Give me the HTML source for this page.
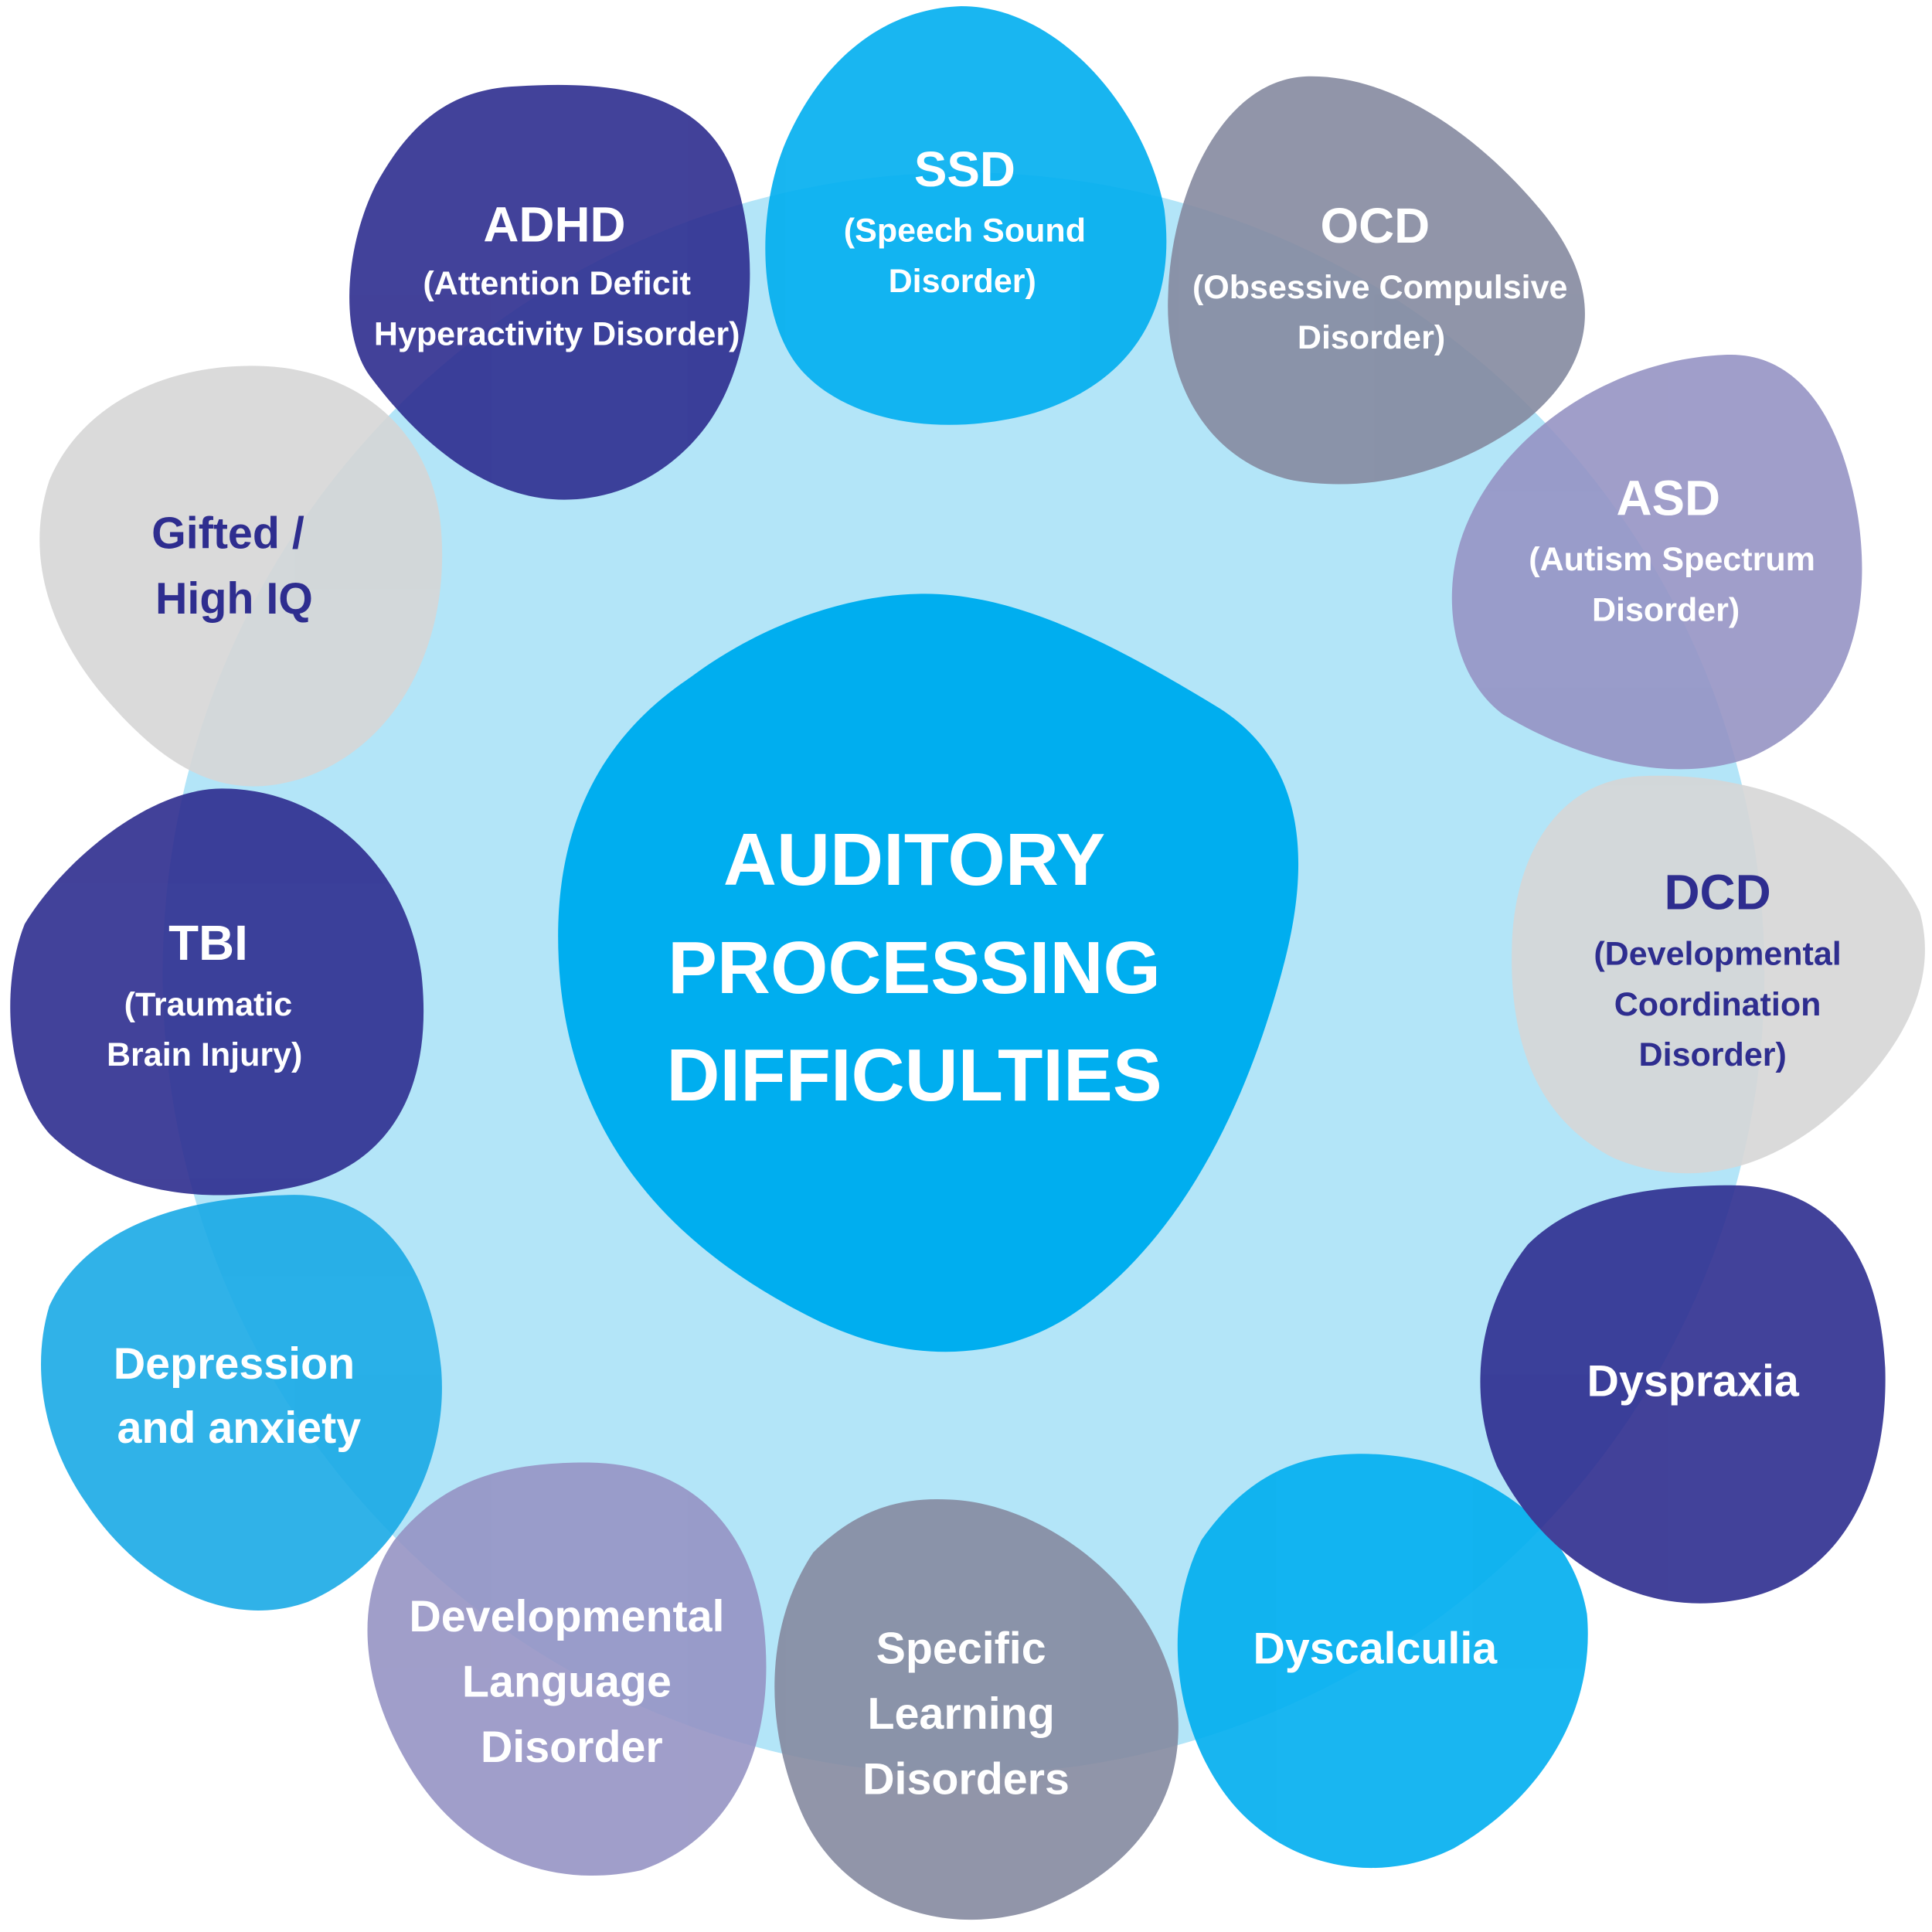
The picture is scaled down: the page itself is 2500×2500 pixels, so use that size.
<!DOCTYPE html>
<html><head><meta charset="utf-8"><style>
html,body{margin:0;padding:0;background:#fff;}
svg{display:block;}
text{font-family:"Liberation Sans",sans-serif;font-weight:bold;text-anchor:middle;}
</style></head><body>
<svg width="2500" height="2500" viewBox="0 0 1568 1568" xmlns="http://www.w3.org/2000/svg">
<rect width="1568" height="1568" fill="#fff"/>
<circle cx="782" cy="790" r="650" fill="#b3e5f8"/>
<path d="M745,482 C820,480 900,520 990,575 C1060,620 1065,700 1040,790 C1010,900 960,1000 880,1060 C820,1105 740,1110 660,1070 C560,1020 470,940 455,800 C445,700 470,610 560,550 C620,505 690,483 745,482Z" fill="#00aeef"/>
<g opacity="0.9">
<path d="M420,70 C500,65 570,75 595,140 C620,210 610,300 570,350 C530,400 470,415 420,400 C370,385 330,345 300,305 C275,270 280,200 305,150 C335,95 370,72 420,70Z" fill="#2e2d8f"/>
<path d="M200,297 C280,295 345,340 357,420 C368,510 330,600 250,630 C180,655 130,620 80,560 C40,510 20,450 40,390 C65,330 130,298 200,297Z" fill="#d6d6d6"/>
<path d="M180,640 C260,640 330,700 342,790 C352,880 320,950 230,965 C150,980 80,960 40,920 C5,880 0,800 20,750 C50,700 120,640 180,640Z" fill="#2e2d8f"/>
<path d="M230,970 C310,965 350,1030 358,1110 C365,1190 320,1270 250,1300 C180,1325 110,1280 70,1220 C35,1170 25,1110 40,1060 C70,995 150,972 230,970Z" fill="#1aaae6"/>
<path d="M470,1187 C560,1185 610,1240 620,1320 C630,1410 600,1490 520,1518 C440,1535 370,1500 330,1430 C295,1370 285,1300 320,1250 C360,1200 410,1188 470,1187Z" fill="#9694c4"/>
<path d="M770,1217 C850,1220 940,1290 955,1380 C965,1460 920,1520 840,1550 C760,1575 680,1540 650,1470 C620,1400 620,1320 660,1260 C695,1225 730,1215 770,1217Z" fill="#858aa0"/>
<path d="M1100,1180 C1190,1178 1275,1230 1288,1310 C1295,1390 1250,1460 1180,1500 C1110,1535 1030,1510 990,1450 C950,1390 945,1310 975,1250 C1010,1200 1050,1181 1100,1180Z" fill="#00aeef"/>
<path d="M1400,962 C1480,960 1525,1010 1530,1110 C1533,1210 1490,1290 1400,1300 C1320,1310 1250,1260 1215,1190 C1190,1130 1200,1060 1240,1010 C1280,970 1340,963 1400,962Z" fill="#2e2d8f"/>
<path d="M1330,630 C1420,625 1520,660 1558,740 C1575,800 1540,860 1480,910 C1430,950 1370,965 1310,940 C1250,910 1225,850 1227,770 C1228,700 1260,635 1330,630Z" fill="#d6d6d6"/>
<path d="M1400,288 C1460,285 1495,340 1508,420 C1520,500 1500,580 1420,615 C1350,640 1270,610 1220,580 C1180,550 1170,490 1185,440 C1210,360 1300,292 1400,288Z" fill="#9694c4"/>
<path d="M1060,62 C1130,60 1200,110 1250,170 C1300,230 1300,290 1240,340 C1180,385 1110,400 1050,390 C980,375 945,310 948,240 C950,160 990,65 1060,62Z" fill="#858aa0"/>
<path d="M780,5 C860,5 930,90 945,170 C955,250 920,310 840,335 C770,355 690,345 650,300 C615,260 612,170 640,110 C670,45 720,7 780,5Z" fill="#00aeef"/>
</g>
<g fill="#fff">
<text x="742" y="718" font-size="60">AUDITORY</text>
<text x="742" y="806" font-size="60">PROCESSING</text>
<text x="742" y="893" font-size="60">DIFFICULTIES</text>
<text x="450" y="196" font-size="40">ADHD</text>
<text x="452" y="239" font-size="27">(Attention Deficit</text>
<text x="452" y="280" font-size="27">Hyperactivity Disorder)</text>
<text x="783" y="151" font-size="40">SSD</text>
<text x="783" y="196" font-size="27">(Speech Sound</text>
<text x="781" y="237" font-size="27">Disorder)</text>
<text x="1116" y="197" font-size="40">OCD</text>
<text x="1120" y="242" font-size="27">(Obsessive Compulsive</text>
<text x="1113" y="283" font-size="27">Disorder)</text>
<text x="1354" y="418" font-size="40">ASD</text>
<text x="1357" y="463" font-size="27">(Autism Spectrum</text>
<text x="1352" y="504" font-size="27">Disorder)</text>
<text x="1374" y="1133" font-size="36">Dyspraxia</text>
<text x="1116" y="1350" font-size="36">Dyscalculia</text>
<text x="780" y="1350" font-size="36">Specific</text>
<text x="780" y="1403" font-size="36">Learning</text>
<text x="784" y="1456" font-size="36">Disorders</text>
<text x="460" y="1324" font-size="36">Developmental</text>
<text x="460" y="1377" font-size="36">Language</text>
<text x="464" y="1430" font-size="36">Disorder</text>
<text x="190" y="1119" font-size="36">Depression</text>
<text x="194" y="1171" font-size="36">and anxiety</text>
<text x="169" y="779" font-size="40">TBI</text>
<text x="169" y="824" font-size="27">(Traumatic</text>
<text x="166" y="865" font-size="27">Brain Injury)</text>
</g>
<g fill="#2e2d8f">
<text x="185" y="445" font-size="36">Gifted /</text>
<text x="190" y="498" font-size="36">High IQ</text>
<text x="1394" y="738" font-size="40">DCD</text>
<text x="1394" y="783" font-size="27">(Developmental</text>
<text x="1394" y="824" font-size="27">Coordination</text>
<text x="1390" y="865" font-size="27">Disorder)</text>
</g>
</svg>
</body></html>
